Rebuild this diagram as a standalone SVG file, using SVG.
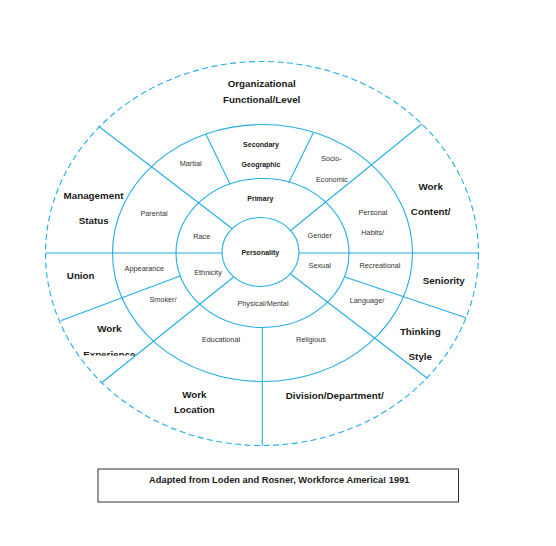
<svg xmlns="http://www.w3.org/2000/svg" width="556" height="546" viewBox="0 0 556 546">
<style>
.ring{fill:none;stroke:#22aee6;stroke-width:1.1}
.dash{stroke-dasharray:6 3.5}
.con line{stroke:#22aee6;stroke-width:1.1}
text{font-family:"Liberation Sans",Arial,sans-serif;text-anchor:middle;fill:#1a1a1a}
.big{font-size:9.8px;font-weight:bold}
.sm{font-size:7.3px;fill:#333}
.smb{font-size:7px;font-weight:bold}
.cap{font-size:9.3px;font-weight:bold}
</style>
<defs>
<clipPath id="clipExp"><rect x="60" y="340" width="100" height="15.6"/></clipPath>
</defs>
<rect width="556" height="546" fill="#fff"/>
<g id="ring-outer"><ellipse class="ring dash" cx="262" cy="253.5" rx="216.5" ry="192"/></g>
<g id="ring-secondary"><ellipse class="ring" cx="262.5" cy="253" rx="150" ry="128.5"/></g>
<g id="ring-primary"><ellipse class="ring" cx="262.5" cy="253" rx="86.5" ry="74.5"/></g>
<g id="ring-personality"><ellipse class="ring" cx="260.5" cy="252" rx="38.5" ry="34.5"/></g>
<g id="connectors" class="con">
<line x1="98.3" y1="126" x2="232.7" y2="229"/>
<line x1="421.7" y1="124" x2="290" y2="231"/>
<line x1="46" y1="253" x2="222" y2="253"/>
<line x1="299" y1="253" x2="478.5" y2="253"/>
<line x1="262.3" y1="327.5" x2="262.3" y2="445.5"/>
<line x1="205.7" y1="133.7" x2="230" y2="184"/>
<line x1="313.3" y1="132.7" x2="288.7" y2="182.7"/>
<line x1="344.3" y1="276.7" x2="466" y2="317.7"/>
<line x1="180" y1="276" x2="60.7" y2="320.7"/>
<line x1="233.3" y1="277.3" x2="102.3" y2="382.3"/>
<line x1="290.7" y1="274" x2="427.3" y2="378.3"/>
</g>
<g id="organizational"><text class="big" x="261.7" y="86.7">Organizational</text><text class="big" x="261.7" y="102.7">Functional/Level</text></g>
<g id="management"><text class="big" x="93.5" y="199.3">Management</text><text class="big" x="93.7" y="224.3">Status</text></g>
<g id="work-content"><text class="big" x="430.7" y="190">Work</text><text class="big" x="430.7" y="215.3">Content/</text></g>
<g id="union"><text class="big" x="80.7" y="279">Union</text></g>
<g id="seniority"><text class="big" x="443.7" y="284">Seniority</text></g>
<g id="work-experience"><text class="big" x="109.3" y="332">Work</text><text class="big" x="109.3" y="357.5" clip-path="url(#clipExp)">Experience</text></g>
<g id="thinking-style"><text class="big" x="420.3" y="335.3">Thinking</text><text class="big" x="420.3" y="360">Style</text></g>
<g id="work-location"><text class="big" x="194.3" y="397.7">Work</text><text class="big" x="194.3" y="412.7">Location</text></g>
<g id="division"><text class="big" x="334.7" y="399">Division/Department/</text></g>
<g id="secondary"><text class="smb" x="261" y="146.7">Secondary</text><text class="smb" x="261" y="167.3">Geographic</text></g>
<g id="martial"><text class="sm" x="190.7" y="165.7">Martial</text></g>
<g id="socio-economic"><text class="sm" x="331.3" y="160.7">Socio-</text><text class="sm" x="332" y="181.7">Economic</text></g>
<g id="parental"><text class="sm" x="154" y="215.7">Parental</text></g>
<g id="personal-habits"><text class="sm" x="373" y="214.7">Personal</text><text class="sm" x="372.7" y="235.3">Habits/</text></g>
<g id="primary"><text class="smb" x="260.3" y="200.7">Primary</text></g>
<g id="race"><text class="sm" x="201.7" y="238.7">Race</text></g>
<g id="gender"><text class="sm" x="319.7" y="237.7">Gender</text></g>
<g id="personality"><text class="smb" x="260.3" y="254.7">Personality</text></g>
<g id="appearance"><text class="sm" x="144.3" y="270.7">Appearance</text></g>
<g id="ethnicity"><text class="sm" x="208" y="275.3">Ethnicity</text></g>
<g id="sexual"><text class="sm" x="319.7" y="268.3">Sexual</text></g>
<g id="recreational"><text class="sm" x="380" y="267.7">Recreational</text></g>
<g id="smoker"><text class="sm" x="163" y="301.7">Smoker/</text></g>
<g id="physical-mental"><text class="sm" x="263" y="305.7">Physical/Mental</text></g>
<g id="language"><text class="sm" x="367" y="302.7">Language/</text></g>
<g id="educational"><text class="sm" x="221" y="341.7">Educational</text></g>
<g id="religious"><text class="sm" x="311" y="341.7">Religious</text></g>
<g id="caption"><rect x="98" y="469" width="360.5" height="33" fill="#fff" stroke="#333" stroke-width="1"/><text class="cap" x="279.3" y="482.7">Adapted from Loden and Rosner, Workforce America! 1991</text></g>
</svg>
